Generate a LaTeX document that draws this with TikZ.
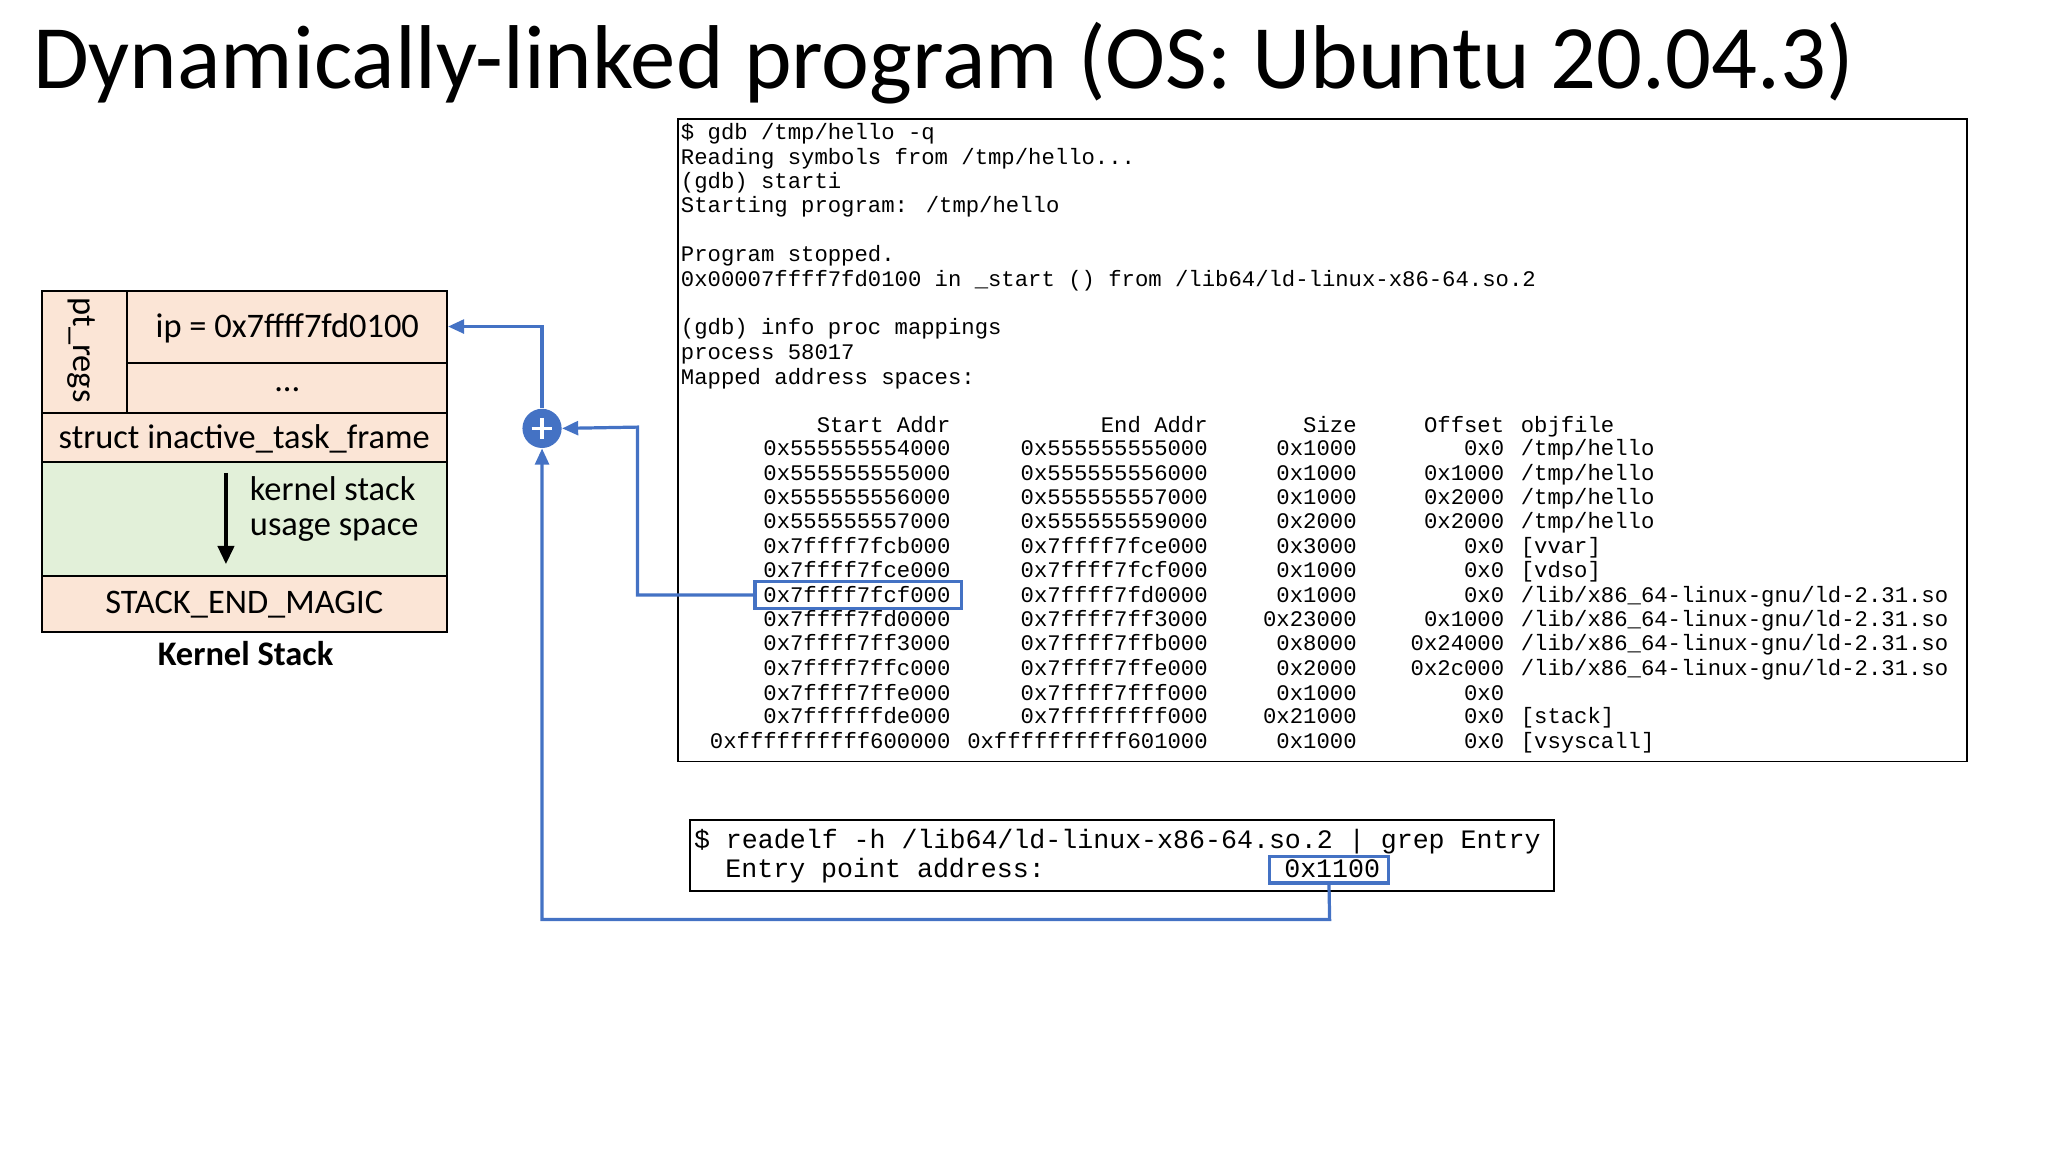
\documentclass[tikz,border=0pt]{standalone}
\usepackage{fontspec}
\setmainfont{Carlito}
\newfontfamily\cour{Liberation Mono}
\usetikzlibrary{arrows.meta}
\definecolor{peach}{HTML}{FBE5D6}
\definecolor{lgreen}{HTML}{E2F0D9}
\definecolor{blu}{HTML}{4472C4}
\newcommand{\cd}[1]{{\fontsize{9.7}{10.6}\cour #1}}
\newcommand{\mrow}[6]{%
 \node[ct,anchor=base east] at (728,#1+6) {\cd{#2}};
 \node[ct,anchor=base east] at (925,#1+6) {\cd{#3}};
 \node[ct,anchor=base east] at (1039,#1+6) {\cd{#4}};
 \node[ct,anchor=base east] at (1152,#1+6) {\cd{#5}};
 \node[ct,anchor=base west] at (1164,#1+6) {\cd{#6}};}
\begin{document}
\begin{tikzpicture}[x=0.02cm,y=-0.02cm,
 ct/.style={inner sep=0pt},
 cell/.style={draw=black,line width=0.8pt,inner sep=0pt},
 conn/.style={draw=blu,line width=1.4pt},
 hl/.style={draw=blu,line width=1.4pt,inner sep=0pt},
 kt/.style={inner sep=0pt,font=\fontsize{15}{18}\selectfont}]
\useasboundingbox (0,0) rectangle (1568,882);
\node[ct,anchor=base west,font=\fontsize{39.5}{46}\selectfont] (title) at (25,68) {Dynamically-linked program (OS: Ubuntu 20.04.3)};
% kernel stack
\fill[peach] (32,223) rectangle (342,354);
\fill[lgreen] (32,354) rectangle (342,441);
\fill[peach] (32,441) rectangle (342,484);
\draw[line width=0.8pt] (32,223) rectangle (342,484);
\draw[line width=0.8pt] (97,223) -- (97,316) (97,278) -- (342,278) (32,316) -- (342,316) (32,354) -- (342,354) (32,441) -- (342,441);
\node[kt,rotate=-90] (ptr) at (62,268) {pt\_regs};
\node[kt] (ip) at (220,251) {ip = 0x7ffff7fd0100};
\coordinate (ipe) at (343,250);
\node[kt] (dots) at (220,298) {...};
\node[kt] (sitf) at (187,336) {struct inactive\_task\_frame};
\node[kt,anchor=west] (ks1) at (191,374) {kernel stack};
\node[kt,anchor=west] (ks2) at (191,406) {usage space};
\coordinate (a1) at (173,362); \coordinate (a2) at (173,432);
\draw[line width=1.8pt,-{Triangle[length=8pt,width=7pt]}] (a1) -- (a2);
\node[kt] (sem) at (187,463) {STACK\_END\_MAGIC};
\node[kt,font=\fontsize{15}{18}\selectfont\bfseries] (kst) at (188,500) {Kernel Stack};
% code box
\draw[line width=0.8pt] (519,91) rectangle (1506,583);
\node[ct,anchor=base west] at (521,107) {\cd{\$ gdb /tmp/hello -q}};
\node[ct,anchor=base west] at (521,126) {\cd{Reading symbols from /tmp/hello...}};
\node[ct,anchor=base west] at (521,144) {\cd{(gdb) starti}};
\node[ct,anchor=base west] at (521,163) {\cd{Starting program: /tmp/hello}};
\node[ct,anchor=base west] at (521,200) {\cd{Program stopped.}};
\node[ct,anchor=base west] at (521,219) {\cd{0x00007ffff7fd0100 in \_start () from /lib64/ld-linux-x86-64.so.2}};
\node[ct,anchor=base west] at (521,256) {\cd{(gdb) info proc mappings}};
\node[ct,anchor=base west] at (521,275) {\cd{process 58017}};
\node[ct,anchor=base west] at (521,294) {\cd{Mapped address spaces:}};
\mrow{325}{Start Addr}{End Addr}{Size}{Offset}{objfile}
\mrow{343}{0x555555554000}{0x555555555000}{0x1000}{0x0}{/tmp/hello}
\mrow{362}{0x555555555000}{0x555555556000}{0x1000}{0x1000}{/tmp/hello}
\mrow{380}{0x555555556000}{0x555555557000}{0x1000}{0x2000}{/tmp/hello}
\mrow{399}{0x555555557000}{0x555555559000}{0x2000}{0x2000}{/tmp/hello}
\mrow{418}{0x7ffff7fcb000}{0x7ffff7fce000}{0x3000}{0x0}{[vvar]}
\mrow{436}{0x7ffff7fce000}{0x7ffff7fcf000}{0x1000}{0x0}{[vdso]}
\mrow{455}{0x7ffff7fcf000}{0x7ffff7fd0000}{0x1000}{0x0}{/lib/x86\_64-linux-gnu/ld-2.31.so}
\mrow{474}{0x7ffff7fd0000}{0x7ffff7ff3000}{0x23000}{0x1000}{/lib/x86\_64-linux-gnu/ld-2.31.so}
\mrow{492}{0x7ffff7ff3000}{0x7ffff7ffb000}{0x8000}{0x24000}{/lib/x86\_64-linux-gnu/ld-2.31.so}
\mrow{511}{0x7ffff7ffc000}{0x7ffff7ffe000}{0x2000}{0x2c000}{/lib/x86\_64-linux-gnu/ld-2.31.so}
\mrow{530}{0x7ffff7ffe000}{0x7ffff7fff000}{0x1000}{0x0}{}
\mrow{548}{0x7ffffffde000}{0x7ffffffff000}{0x21000}{0x0}{[stack]}
\mrow{567}{0xffffffffff600000}{0xffffffffff601000}{0x1000}{0x0}{[vsyscall]}
\node[hl,minimum width=158*0.02cm,minimum height=21*0.02cm] (hl1) at (657,455.5) {};
% readelf box
\draw[line width=0.8pt] (528,628) rectangle (1190,682);
\node[ct,anchor=base west] at (531,650) {\fontsize{11.6}{13}\cour \$ readelf -h /lib64/ld-linux-x86-64.so.2 | grep Entry};
\node[ct,anchor=base west] at (555,672) {\fontsize{11.6}{13}\cour Entry point address:};
\node[ct,anchor=base east] at (1057,672) {\fontsize{11.6}{13}\cour 0x1100};
\node[hl,minimum width=91*0.02cm,minimum height=20*0.02cm] (hl2) at (1017.5,666) {};
% plus
\node[circle,fill=blu,minimum size=30*0.02cm,inner sep=0pt] (plus) at (415,328) {};
\draw[white,line width=1.6pt] (407,328) -- (423,328) (415,320) -- (415,336);
\coordinate (c1) at (488,455.5); \coordinate (c2) at (488,327);
\coordinate (c3) at (415,250);
\coordinate (c4) at (1018,704); \coordinate (c5) at (415,704);
\draw[conn,-{Triangle[length=7pt,width=6pt]}] (hl1.west) -- (c1) -- (c2) -- (plus.east);
\draw[conn,-{Triangle[length=7pt,width=6pt]}] (plus.north) -- (c3) -- (ipe);
\draw[conn,-{Triangle[length=7pt,width=6pt]}] (hl2.south) -- (c4) -- (c5) -- (plus.south);
\end{tikzpicture}
\end{document}
